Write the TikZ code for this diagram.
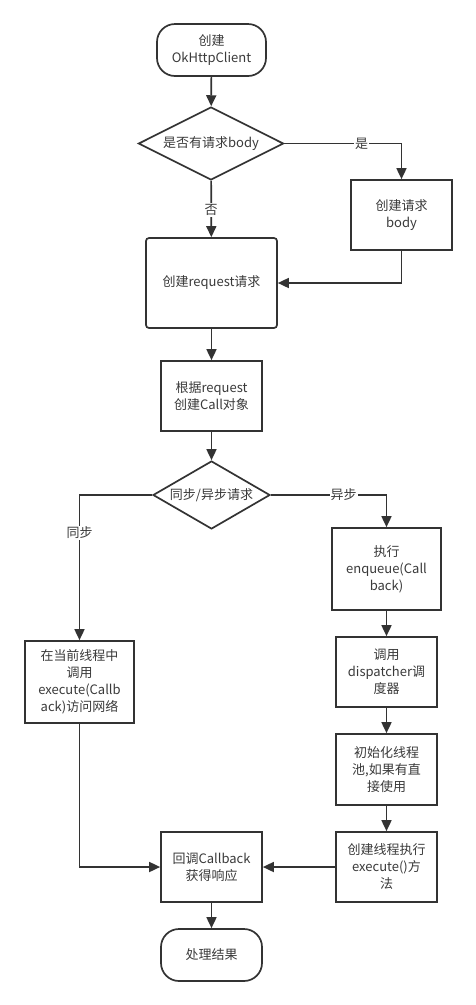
\documentclass[tikz,border=0pt]{standalone}
\usepackage{fontspec}
\setmainfont{Noto Sans CJK SC}
\usetikzlibrary{arrows.meta,shapes.geometric}
\definecolor{linec}{HTML}{333333}
\definecolor{textc}{HTML}{3A3A3A}
\tikzset{
  every node/.style={font=\fontsize{13}{17}\selectfont, text=textc, align=center, inner sep=0pt},
  boxst/.style={draw=linec, line width=1.7pt, fill=white, minimum width=#1, rectangle},
  termst/.style={draw=linec, line width=1.7pt, fill=white, rounded corners=18pt, minimum width=101pt, minimum height=52pt},
  conn/.style={draw=linec, line width=1.7pt, -{Triangle[length=11pt,width=10pt]}},
  lbl/.style={fill=white, inner sep=1pt}
}
\begin{document}
\begin{tikzpicture}[x=1pt,y=-1pt]
\fill[white] (0,0) rectangle (476,1005);
\useasboundingbox (0,0) rectangle (476,1005);
% nodes
\node[termst, minimum width=109pt] (start) at (211.5,50) {创建\\OkHttpClient};
\node[draw=linec, line width=1.7pt, fill=white, diamond, minimum width=145pt, minimum height=73pt, inner sep=0pt, aspect=2] (d1) at (211,143.5) {是否有请求body};
\node[boxst=101pt, minimum height=70pt] (body) at (401.5,215) {创建请求\\body};
\node[boxst=131pt, minimum height=90pt, rounded corners=3pt] (req) at (211.5,283) {创建request请求};
\node[boxst=101pt, minimum height=70pt] (call) at (211.5,396) {根据request\\创建Call对象};
\node[draw=linec, line width=1.7pt, fill=white, diamond, minimum width=117pt, minimum height=68pt, inner sep=0pt, aspect=1.72] (d2) at (211.5,495) {同步/异步请求};
\node[boxst=109pt, minimum height=82pt] (sync) at (79.5,682) {在当前线程中\\调用\\execute(Callb\\ack)访问网络};
\node[boxst=109pt, minimum height=82pt] (enq) at (386.5,569) {执行\\enqueue(Call\\back)};
\node[boxst=101pt, minimum height=70pt] (disp) at (386.5,672) {调用\\dispatcher调\\度器};
\node[boxst=101pt, minimum height=71pt] (pool) at (386.5,769.5) {初始化线程\\池,如果有直\\接使用};
\node[boxst=101pt, minimum height=70pt] (exec) at (386.5,867) {创建线程执行\\execute()方\\法};
\node[boxst=101pt, minimum height=70pt] (cb) at (211.5,867) {回调Callback\\获得响应};
\node[termst, minimum width=101pt] (end) at (211.5,955) {处理结果};
% connectors
\draw[conn] (start) -- (d1);
\draw[conn] (d1) -- node[lbl, pos=0.52] {否} (req);
\draw[conn] (d1.east) -- node[lbl, pos=0.66] {是} (d1.east -| body.north) -- (body);
\draw[conn] (body.south) |- (req.east);
\draw[conn] (req) -- (call);
\draw[conn] (call) -- (d2);
\draw[conn] (d2.west) -| node[lbl, pos=0.63] {同步} (sync.north);
\draw[conn] (d2.east) -| node[lbl, pos=0.315] {异步} (enq.north);
\draw[conn] (enq) -- (disp);
\draw[conn] (disp) -- (pool);
\draw[conn] (pool) -- (exec);
\draw[conn] (sync.south) |- (cb.west);
\draw[conn] (exec) -- (cb);
\draw[conn] (cb) -- (end);
\end{tikzpicture}
\end{document}
